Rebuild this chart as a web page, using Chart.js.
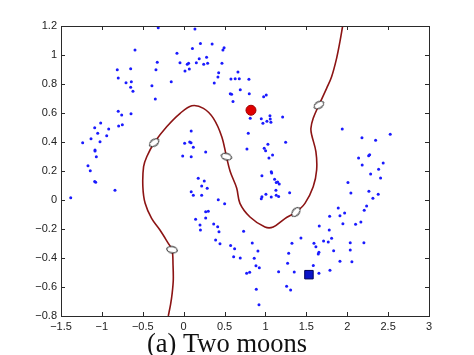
<!DOCTYPE html>
<html>
<head>
<meta charset="utf-8">
<script src="https://cdn.jsdelivr.net/npm/chart.js@4.4.1/dist/chart.umd.min.js"></script>
<style>
  html, body { margin: 0; padding: 0; background: #fff; }
  #wrap { position: relative; width: 474px; height: 355px; overflow: hidden; }
  canvas { display: block; }
</style>
</head>
<body>
<div id="wrap"><canvas id="c" width="474" height="355"></canvas></div>
<script>
// ---- data ----
const dotX = [-1.381,-1.088,-1.076,-0.84,-1.17,-1.142,-1.084,-1.084,-1.068,-1.235,-1.133,-1.023,-0.941,-0.917,-1.051,-1.088,-1.015,-0.795,-0.75,-0.8,-0.758,-0.644,-0.62,-0.648,-0.64,-0.705,-0.8,-0.812,-0.648,-0.595,-0.388,-0.347,-0.152,-0.323,-0.339,-0.311,0.138,-0.082,0.107,0.205,0.348,0.494,0.48,-0.045,0.044,0.06,0.016,0.069,0.155,0.19,0.245,0.28,0.293,0.468,0.428,0.419,0.374,0.578,0.664,0.68,0.63,0.57,0.586,0.603,0.692,0.798,0.802,0.978,1.01,0.814,0.949,0.969,1.018,1.055,1.059,1.067,1.21,0.79,1.247,0.774,1.03,0.985,1.002,1.087,1.043,1.071,
  0.092,0.012,0.074,0.09,0.118,-0.012,0.092,0.269,
  0.178,0.252,0.22,0.288,0.092,0.118,0.22,0.423,0.501,0.269,0.301,0.146,0.269,0.2,0.205,0.367,0.416,0.432,0.733,0.391,0.444,0.574,0.623,0.611,0.692,0.957,1.076,1.112,1.132,1.149,1.169,1.296,1.128,1.006,0.957,0.949,1.071,1.132,1.161,0.839,0.908,0.863,0.884,0.925,0.77,0.807,0.888,0.921,1.324,1.434,1.284,1.271,1.161,1.352,1.259,1.308,1.585,1.654,1.593,1.617,1.654,1.646,1.711,1.768,1.809,1.834,1.789,1.658,1.78,1.785,2.286,2.408,2.009,2.045,2.265,2.379,2.314,2.237,2.208,1.89,1.968,1.911,1.947,2.102,2.167,2.037,2.204,2.037,1.911,2.057,1.939,2.18,2.347,2.526,2.139,2.262,2.274,2.183,2.44,2.384];
const dotY = [0.016,0.127,0.123,0.067,0.237,0.202,0.345,0.338,0.299,0.395,0.423,0.402,0.443,0.49,0.46,0.499,0.531,0.51,0.519,0.612,0.586,0.595,0.75,0.777,0.816,0.809,0.841,0.899,0.906,1.034,0.788,0.697,0.816,0.95,0.899,1.188,1.18,1.012,1.044,1.08,1.076,1.05,1.034,0.947,0.936,0.943,0.89,0.903,0.947,0.975,0.936,0.984,0.943,0.943,0.878,0.848,0.807,0.834,0.883,0.837,0.837,0.733,0.729,0.68,0.761,0.832,0.733,0.712,0.724,0.563,0.561,0.529,0.543,0.581,0.559,0.536,0.572,0.46,0.398,0.352,0.384,0.357,0.34,0.31,0.29,0.195,
  0.476,0.391,0.4,0.395,0.363,0.303,0.299,0.331,
  0.15,0.131,0.097,0.081,0.057,0.032,0.032,0.002,-0.025,-0.081,-0.078,-0.133,-0.124,-0.172,-0.207,-0.166,-0.184,-0.219,-0.216,-0.276,-0.301,-0.313,-0.336,-0.391,-0.4,0.168,0.186,0.143,0.12,0.124,0.11,0.05,0.067,0.039,0.023,0.009,0.021,0.032,0.025,-0.297,-0.352,-0.402,-0.453,-0.467,-0.506,-0.499,-0.616,-0.722,-0.299,-0.262,-0.368,-0.437,-0.494,-0.497,-0.595,-0.621,-0.451,-0.506,-0.299,-0.322,-0.361,-0.372,-0.283,-0.29,-0.264,-0.35,-0.485,-0.179,-0.207,-0.112,0.179,0.152,0.12,0.048,0.06,0.039,0.012,-0.041,-0.071,-0.055,-0.09,-0.108,-0.163,-0.167,-0.152,-0.295,-0.295,-0.345,-0.423,-0.425,0.49,0.43,0.412,0.453,0.29,0.306,0.312,0.241,0.255,0.212];

const curveX = [-0.188,-0.16,-0.14,-0.127,-0.13,-0.142,-0.188,-0.29,-0.392,-0.471,-0.499,-0.49,-0.45,-0.36,-0.208,-0.043,0.1,0.242,0.364,0.466,0.523,0.57,0.648,0.688,0.811,0.994,1.095,1.238,1.373,1.483,1.584,1.626,1.617,1.565,1.556,1.584,1.654,1.748,1.809,1.87,1.911,1.944];
const curveY = [-0.8,-0.72,-0.64,-0.552,-0.45,-0.343,-0.299,-0.207,-0.127,-0.023,0.092,0.23,0.3,0.395,0.505,0.598,0.65,0.632,0.563,0.437,0.299,0.195,0.083,-0.023,-0.117,-0.186,-0.186,-0.128,-0.083,-0.023,0.092,0.207,0.333,0.45,0.494,0.563,0.655,0.77,0.85,0.977,1.092,1.2];

const ellX = [-0.142,-0.36,0.523,1.373,1.654];
const ellY = [-0.343,0.395,0.299,-0.083,0.655];
const ellTilt = [10,-35,15,-50,-30];

const redX = [0.823], redY = [0.619];
const blueX = [1.532], blueY = [-0.515];

const xTicks = [-1.5,-1,-0.5,0,0.5,1,1.5,2,2.5,3];
const yTicks = [-0.8,-0.6,-0.4,-0.2,0,0.2,0.4,0.6,0.8,1,1.2];
const caption = '(a) Two moons';

// ---- helpers ----
const pts = (xs, ys) => xs.map((x, i) => ({x: x, y: ys[i]}));
const fmt = v => String(Math.round(v * 10) / 10).replace('-', '\u2212');

const ell = document.createElement('canvas');
ell.width = 14; ell.height = 10;
(function(){
  const g = ell.getContext('2d');
  g.beginPath();
  g.ellipse(7, 5, 5.3, 3.2, 0, 0, Math.PI * 2);
  g.fillStyle = '#ffffff'; g.fill();
  g.lineWidth = 1; g.strokeStyle = '#111'; g.stroke();
})();

const frame = {
  id: 'frame',
  afterDatasetsDraw(chart) {
    const {ctx, chartArea: a, scales} = chart;
    ctx.save();
    ctx.strokeStyle = '#2a2a2a';
    ctx.lineWidth = 1;
    ctx.beginPath();
    const L = 4;
    xTicks.forEach(v => {
      const p = Math.round(scales.x.getPixelForValue(v)) + 0.5;
      ctx.moveTo(p, a.bottom); ctx.lineTo(p, a.bottom - L);
      ctx.moveTo(p, a.top); ctx.lineTo(p, a.top + L);
    });
    yTicks.forEach(v => {
      const p = Math.round(scales.y.getPixelForValue(v)) + 0.5;
      ctx.moveTo(a.left, p); ctx.lineTo(a.left + L, p);
      ctx.moveTo(a.right, p); ctx.lineTo(a.right - L, p);
    });
    ctx.stroke();
    ctx.strokeRect(Math.round(a.left) + 0.5, Math.round(a.top) + 0.5,
                   Math.round(a.right - a.left), Math.round(a.bottom - a.top));
    ctx.restore();
  },
  afterDraw(chart) {
    const ctx = chart.ctx;
    ctx.save();
    ctx.fillStyle = '#111';
    ctx.font = '26.5px "Liberation Serif", "Times New Roman", serif';
    ctx.textAlign = 'left';
    ctx.textBaseline = 'alphabetic';
    ctx.fillText(caption, 147, 352);
    ctx.restore();
  }
};

new Chart(document.getElementById('c'), {
  type: 'scatter',
  data: {
    datasets: [
      { data: pts(redX, redY), pointStyle: 'circle', pointRadius: 5,
        backgroundColor: '#e00000', borderColor: '#a00000', borderWidth: 1, order: 0 },
      { data: pts(blueX, blueY), pointStyle: 'rect', pointRadius: 6,
        backgroundColor: '#0a14c8', borderColor: '#00005a', borderWidth: 1, order: 0 },
      { data: pts(ellX, ellY), pointStyle: ell, pointRadius: 5,
        rotation: ellTilt, order: 1 },
      { data: pts(curveX, curveY), showLine: true, pointRadius: 0,
        borderColor: '#8c1414', borderWidth: 1.6, tension: 0.35, fill: false, order: 2 },
      { data: pts(dotX, dotY), pointStyle: 'circle', pointRadius: 1.5,
        backgroundColor: '#1a1aff', borderWidth: 0, order: 3 }
    ]
  },
  options: {
    responsive: false,
    animation: false,
    devicePixelRatio: 1,
    layout: { padding: { top: 26, right: 45, left: 0, bottom: 0 } },
    plugins: { legend: { display: false }, tooltip: { enabled: false } },
    scales: {
      x: {
        type: 'linear', min: -1.5, max: 3,
        afterBuildTicks: s => { s.ticks = xTicks.map(v => ({value: v})); },
        afterFit: s => { s.height = 39; },
        grid: { display: false, drawTicks: false },
        border: { display: false },
        ticks: { callback: v => fmt(v), font: { family: '"Liberation Sans", Arial, sans-serif', size: 11 },
                 color: '#222', padding: 4, maxRotation: 0, autoSkip: false }
      },
      y: {
        type: 'linear', min: -0.8, max: 1.2,
        afterBuildTicks: s => { s.ticks = yTicks.map(v => ({value: v})); },
        afterFit: s => { s.width = 61; },
        grid: { display: false, drawTicks: false },
        border: { display: false },
        ticks: { callback: v => fmt(v), font: { family: '"Liberation Sans", Arial, sans-serif', size: 11 },
                 color: '#222', padding: 4, autoSkip: false }
      }
    }
  },
  plugins: [frame]
});
</script>
</body>
</html>
